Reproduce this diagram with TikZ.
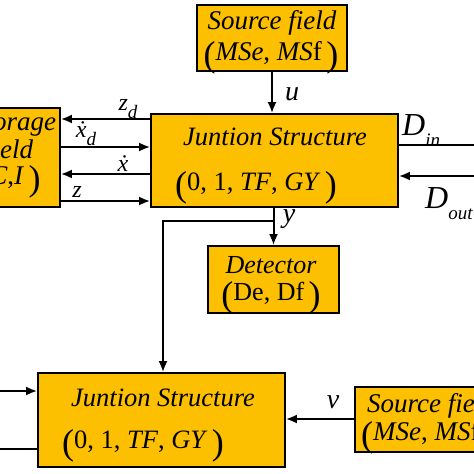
\documentclass[tikz,border=0pt]{standalone}
\usepackage{fontspec}
\setmainfont{Liberation Serif}
\usetikzlibrary{arrows.meta}
\definecolor{gold}{RGB}{252,192,0}
\newcommand\fs[1]{\fontsize{#1}{#1}\selectfont}
\newcommand\bp[1]{\raisebox{-0.24em}{\fs{36}#1}}
\newcommand\lsub[1]{\raisebox{-0.35em}{\fs{19}\itshape #1}}
\tikzset{
  box/.style={draw=black, fill=gold, line width=1.8pt, inner sep=0pt},
  txt/.style={inner sep=0pt, anchor=base},
  lab/.style={inner sep=0pt, anchor=base, font=\fs{24}\itshape},
  biglab/.style={inner sep=0pt, anchor=base, font=\fs{28}\itshape},
  arr/.style={line width=2pt, -{Latex[length=11pt,width=9pt]}},
  ln/.style={line width=2pt}
}
\begin{document}
\begin{tikzpicture}[x=1pt,y=-1pt]
\clip (0,0) rectangle (474,474);
\fill[white] (0,0) rectangle (474,474);
% boxes
\node[box, minimum width=150pt, minimum height=66pt] (src1) at (272,38) {};
\node[box, minimum width=247pt, minimum height=93pt] (js1) at (274.5,160.5) {};
\node[box, minimum width=92pt, minimum height=99pt] (sto) at (14,157.5) {};
\node[box, minimum width=131pt, minimum height=67pt] (det) at (273.5,279.5) {};
\node[box, minimum width=247pt, minimum height=94pt] (js2) at (161.5,420) {};
\node[box, minimum width=150pt, minimum height=65pt] (src2) at (430,419.5) {};
% texts
\node[txt, font=\fs{27}\itshape] (t1a) at (272,29) {Source field};
\node[txt, font=\fs{27}] (t1b) at (271,60) {\bp{(}\textit{MSe}, \textit{MS}f\,\bp{)}};
\node[txt, font=\fs{26.5}\itshape] (t2a) at (275,145) {Juntion Structure};
\node[txt, font=\fs{26.5}] (t2b) at (256,190) {\bp{(}0, 1, \textit{TF}, \textit{GY}\,\bp{)}};
\node[txt, font=\fs{27}\itshape] (t3a) at (14,130) {Storage};
\node[txt, font=\fs{27}\itshape] (t3b) at (9,158) {field};
\node[txt, font=\fs{27}] (t3c) at (9,184) {\bp{(}\textit{C},\textit{I}\,\bp{)}};
\node[txt, font=\fs{26}\itshape] (t4a) at (271,273) {Detector};
\node[txt, font=\fs{26}] (t4b) at (271,300) {\bp{(}De, Df\,\bp{)}};
\node[txt, font=\fs{26.5}\itshape] (t5a) at (163,406) {Juntion Structure};
\node[txt, font=\fs{26.5}] (t5b) at (143,448) {\bp{(}0, 1, \textit{TF}, \textit{GY}\,\bp{)}};
\node[txt, font=\fs{27}\itshape, anchor=base west] (t6a) at (367,412) {Source field};
\node[txt, font=\fs{27}, anchor=base west] (t6b) at (361,440) {\bp{(}\textit{MSe}, \textit{MS}f\,\bp{)}};
% coordinates
\coordinate (rin) at (474,145);
\coordinate (rout) at (474,176);
\coordinate (lin) at (0,391);
\coordinate (lout) at (0,449);
\coordinate (br) at (163,221);
% connectors
\draw[arr] (src1) -- (src1 |- js1.north);
\node[biglab] (lu) at (292,100) {u};
\draw[arr] (js1.west |- 0,119) -- (sto.east |- 0,119);
\draw[arr] (sto.east |- 0,147) -- (js1.west |- 0,147);
\draw[arr] (js1.west |- 0,174) -- (sto.east |- 0,174);
\draw[arr] (sto.east |- 0,201) -- (js1.west |- 0,201);
\node[lab] (lzd) at (128,110) {z\lsub{d}};
\node[lab] (lxd) at (86,137) {\.x\lsub{d}};
\node[lab] (lx) at (123,171) {\.x};
\node[lab] (lz) at (77,197) {z};
\draw[ln] (js1.east |- rin) -- (rin);
\draw[arr] (rout) -- (js1.east |- rout);
\node[txt, font=\fs{32}\itshape, anchor=base west] (ldin) at (402,135) {D\lsub{in}};
\node[txt, font=\fs{32}\itshape, anchor=base west] (ldout) at (425,208) {D\lsub{out}};
\draw[arr] (js1.south -| det) -- (det.north);
\node[biglab] (ly) at (289,222) {y};
\draw[arr] (274,221) -- (br) -- (br |- js2.north);
\draw[arr] (lin) -- (js2.west |- lin);
\draw[ln] (js2.west |- lout) -- (lout);
\draw[arr] (src2.west |- 0,419) -- (js2.east |- 0,419);
\node[biglab] (lv) at (333,408) {v};
\end{tikzpicture}
\end{document}
